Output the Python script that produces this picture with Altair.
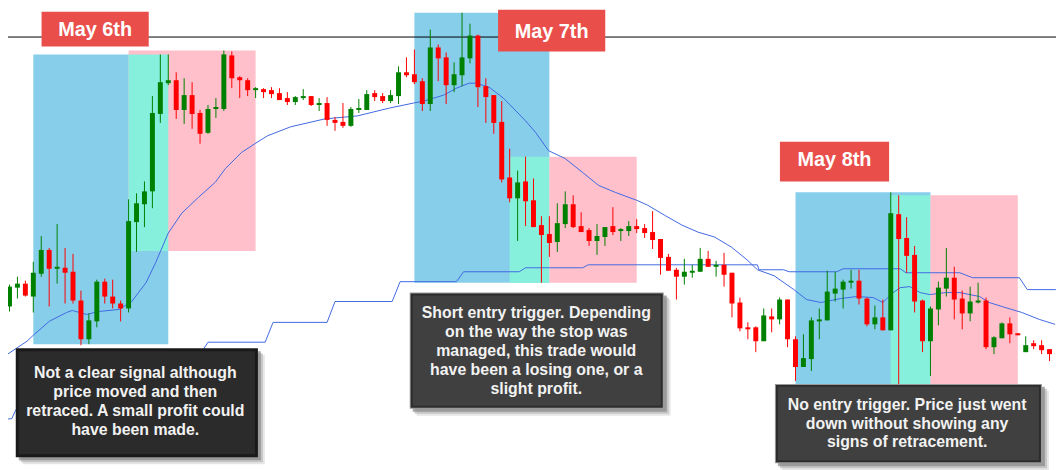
import altair as alt
import pandas as pd

# ---------------- candle data (one bar per period, price level units) ----------------
open_ = [174, 163, 182, 186, 173, 196, 220, 201, 202, 198,
         169, 130, 148, 188, 173, 166, 161, 248, 266, 279,
         357, 388, 391, 361, 376, 358, 338, 362, 362, 416,
         394, 391, 381, 382, 381, 378, 373, 369, 373, 375,
         366, 368, 351, 349, 345, 361, 361, 378, 375, 370,
         375, 399, 397, 390, 367, 424, 414, 386, 396, 413,
         436, 385, 376, 349, 293, 272, 289, 270, 245, 236,
         228, 246, 266, 244, 240, 229, 233, 244, 239, 239,
         244, 242, 238, 231, 213, 200, 193, 197, 198, 211,
         203, 205, 197, 167, 142, 142, 128, 153, 150, 170,
         130, 102, 110, 148, 149, 176, 180, 187, 189, 171,
         145, 152, 139, 256, 232, 215, 169, 128, 160, 181,
         192, 171, 156, 167, 169, 122, 131, 146, 136, 117,
         126, 124, 120]
high = [179, 185, 193, 189, 208, 234, 222, 246, 222, 216,
        179, 156, 190, 191, 190, 169, 271, 277, 289, 375,
        417, 417, 399, 393, 389, 361, 366, 373, 421, 420,
        395, 393, 384, 383, 384, 383, 379, 375, 382, 375,
        373, 374, 354, 368, 364, 372, 381, 381, 378, 381,
        405, 414, 422, 393, 442, 427, 419, 409, 459, 448,
        437, 393, 376, 370, 322, 300, 314, 292, 254, 254,
        267, 279, 275, 258, 242, 246, 243, 263, 242, 249,
        251, 246, 259, 231, 216, 202, 211, 205, 222, 219,
        209, 217, 197, 172, 147, 143, 161, 161, 172, 170,
        133, 135, 152, 161, 199, 198, 190, 200, 200, 172,
        164, 170, 278, 275, 253, 224, 170, 163, 188, 222,
        203, 179, 183, 187, 172, 133, 147, 152, 136, 133,
        129, 129, 120]
low = [161, 158, 171, 173, 157, 193, 163, 186, 166, 166,
       124, 125, 142, 166, 161, 148, 157, 218, 243, 262,
       348, 386, 352, 347, 342, 327, 337, 353, 360, 383,
       373, 375, 373, 373, 373, 371, 366, 366, 371, 365,
       360, 345, 340, 343, 344, 358, 361, 370, 368, 368,
       367, 394, 387, 360, 360, 390, 367, 379, 385, 408,
       364, 348, 337, 288, 268, 229, 244, 243, 187, 213,
       218, 242, 242, 238, 224, 215, 224, 235, 229, 234,
       237, 232, 221, 195, 199, 170, 185, 192, 198, 203,
       193, 183, 152, 138, 130, 117, 128, 137, 145, 122,
       88, 102, 98, 130, 149, 168, 161, 181, 165, 143,
       140, 139, 139, 85, 197, 157, 117, 93, 144, 173,
       150, 140, 148, 166, 120, 115, 131, 126, 134, 117,
       120, 115, 108]
close = [163, 183, 186, 174, 197, 220, 201, 203, 197, 169,
         130, 149, 188, 173, 166, 161, 249, 267, 279, 358,
         389, 391, 361, 376, 357, 337, 362, 364, 417, 393,
         391, 381, 383, 379, 377, 371, 369, 374, 375, 366,
         368, 351, 348, 345, 362, 363, 377, 374, 370, 376,
         399, 396, 389, 367, 424, 413, 386, 397, 414, 436,
         384, 374, 348, 291, 272, 288, 269, 243, 235, 227,
         247, 266, 243, 238, 229, 234, 243, 238, 241, 244,
         241, 237, 230, 212, 199, 193, 198, 199, 211, 203,
         205, 195, 166, 141, 140, 128, 154, 150, 170, 130,
         102, 111, 149, 150, 178, 181, 188, 189, 171, 145,
         152, 139, 257, 231, 214, 168, 128, 161, 182, 192,
         170, 156, 168, 169, 122, 132, 146, 135, 134, 124,
         123, 119, 115]

# moving average (bar position, level)
ma_bar = [0, 1.9, 3.2, 4.0, 6.0, 8.2, 8.9, 10.7, 12.3, 14.8, 16.4, 18.2, 19.4, 21.0,
          22.7, 24.8, 26.9, 28.2, 30.2, 31.9, 33.5, 36.4, 40.7, 44.8, 48.9, 51.9,
          53.2, 55.7, 57.3, 58.9, 59.8, 61.4, 63.2, 64.8, 66.0, 67.3, 68.9, 71.0,
          73.2, 75.2, 77.3, 80.0, 81.4, 83.5, 85.7, 87.7, 89.8, 91.9, 93.9, 95.2,
          97.3, 99.8, 101.4, 103.2, 105.7, 107.7, 109.8, 111.0, 112.3, 113.2, 114.4,
          115.7, 116.9, 118.9, 120.7, 123.2, 124.4, 126.4, 128.5, 130.7, 132.7]
ma_val = [111, 121, 128, 134, 148, 157, 159, 155, 158, 160, 168, 187, 207, 237,
          257, 273, 288, 302, 318, 327, 335, 344, 352, 355, 363, 368,
          370, 376, 383, 388, 388, 384, 373, 360, 350, 338, 320, 312,
          298, 285, 278, 270, 265, 255, 245, 238, 233, 223, 210, 200,
          194, 180, 170, 167, 171, 173, 172, 167, 177, 182, 183,
          177, 175, 177, 177, 173, 167, 162, 157, 150, 145]

# stepped channel line (bar position, level)
step_bar = [0, 1.3, 1.8, 14.8, 15.4, 24.8, 26.0, 33.2, 34.2, 41.0, 42.0, 49.2, 50.2,
            57.3, 58.2, 65.2, 66.0, 73.2, 73.9, 95.2, 95.4, 98.5, 99.2, 105.2, 106.0,
            113.2, 113.9, 120.7, 122.3, 128.2, 129.2, 132.8]
step_val = [49, 50, 59, 59, 112, 112, 127, 127, 147, 147, 168, 168, 188,
            188, 198, 198, 202, 202, 205, 205, 200, 200, 198, 198, 201,
            201, 197, 197, 192, 192, 180, 180]

# highlighted zones
zone_start = [4, 16, 16, 52, 64, 69, 100, 112, 117]
zone_end = [21, 32, 21, 69, 69, 80, 117, 117, 128]
zone_top = [417, 421, 417, 459, 314, 314, 278, 275, 275]
zone_bottom = [125, 219, 219, 187, 187, 187, 85, 85, 85]
zone_kind = ["setup", "trade", "entry", "setup", "entry", "trade", "setup", "entry", "trade"]

# day labels
label_text = ["May 6th", "May 7th", "May 8th"]
label_start = [5.04, 62.54, 98.04]
label_end = [18.54, 76.04, 111.79]
label_top = [460, 462, 329]
label_bottom = [425, 420, 289]
label_center = [11.79, 69.29, 104.91]
label_base = [436, 434, 305]

# comment boxes
note_text = [
    "Not a clear signal although\nprice moved and then\nretraced. A small profit could\nhave been made.",
    "Short entry trigger. Depending\non the way the stop was\nmanaged, this trade would\nhave been a losing one, or a\nslight profit.",
    "No entry trigger. Price just went\ndown without showing any\nsigns of retracement.",
]
note_start = [1.79, 51.41, 97.41]
note_end = [32.29, 83.41, 131.04]
note_top = [121, 177, 85]
note_bottom = [11, 60, 5]
note_center = [16.85, 67.35, 114.06]
note_base = [91, 151, 59]

hline_level = [434.5]

# ---------------- tables ----------------
zone_colors = {"setup": "#87ceeb", "trade": "#ffc0cb", "entry": "#87f0dd"}
candles = pd.DataFrame({"bar": list(range(len(open_))), "open": open_, "high": high,
                        "low": low, "close": close})
candles["col"] = ["#008000" if c >= o else "#ff0000" for o, c in zip(open_, close)]
ma = pd.DataFrame({"bar": ma_bar, "level": ma_val})
step = pd.DataFrame({"bar": step_bar, "level": step_val})
zones = pd.DataFrame({"x1": zone_start, "x2": zone_end, "y1": zone_top, "y2": zone_bottom,
                      "col": [zone_colors[k] for k in zone_kind]})
labels = pd.DataFrame({"x1": label_start, "x2": label_end, "y1": label_top, "y2": label_bottom,
                       "xc": label_center, "yb": label_base, "text": label_text})
notes = pd.DataFrame({"x1": note_start, "x2": note_end, "y1": note_top, "y2": note_bottom,
                      "xc": note_center, "yb": note_base, "text": note_text,
                      "rim": ["#1a1a1a", "#9a9a9a", "#9a9a9a"],
                      "edge": ["#1a1a1a", "#2c2c2c", "#2c2c2c"],
                      "face": ["#2b2b2b", "#404040", "#404040"]})

XS = alt.Scale(domain=[0.8125, 132.8125], nice=False, zero=False, padding=0)
YS = alt.Scale(domain=[0, 462], nice=False, zero=False, padding=0)
FONT = "Liberation Sans"

zone_layer = alt.Chart(zones).mark_rect().encode(
    x=alt.X("x1:Q", scale=XS, axis=None), x2="x2:Q",
    y=alt.Y("y1:Q", scale=YS, axis=None), y2="y2:Q",
    color=alt.Color("col:N", scale=None),
)

hline = alt.Chart(pd.DataFrame({"level": hline_level})).mark_rule(
    color="#000000", strokeWidth=1).encode(y=alt.Y("level:Q", scale=YS, axis=None))

ma_line = alt.Chart(ma).mark_line(color="#4169e1", strokeWidth=1).encode(
    x=alt.X("bar:Q", scale=XS, axis=None), y=alt.Y("level:Q", scale=YS, axis=None))
step_line = alt.Chart(step).mark_line(color="#4169e1", strokeWidth=1).encode(
    x=alt.X("bar:Q", scale=XS, axis=None), y=alt.Y("level:Q", scale=YS, axis=None))

wicks = alt.Chart(candles).mark_rule(strokeWidth=1).encode(
    x=alt.X("bar:Q", scale=XS, axis=None),
    y=alt.Y("low:Q", scale=YS, axis=None), y2="high:Q",
    color=alt.Color("col:N", scale=None))
bodies = alt.Chart(candles).mark_bar(size=5).encode(
    x=alt.X("bar:Q", scale=XS, axis=None),
    y=alt.Y("open:Q", scale=YS, axis=None), y2="close:Q",
    color=alt.Color("col:N", scale=None))

label_box = alt.Chart(labels).mark_rect(color="#e94e4a").encode(
    x=alt.X("x1:Q", scale=XS, axis=None), x2="x2:Q",
    y=alt.Y("y1:Q", scale=YS, axis=None), y2="y2:Q")
label_txt = alt.Chart(labels).mark_text(
    font=FONT, fontSize=20, fontWeight="bold", color="white", align="center",
    baseline="alphabetic").encode(
    x=alt.X("xc:Q", scale=XS, axis=None), y=alt.Y("yb:Q", scale=YS, axis=None), text="text:N")


def note_rect(off1, off2, **mk):
    return alt.Chart(notes).mark_rect(xOffset=off1[0], x2Offset=off2[0],
                                      yOffset=off1[1], y2Offset=off2[1], **mk).encode(
        x=alt.X("x1:Q", scale=XS, axis=None), x2="x2:Q",
        y=alt.Y("y1:Q", scale=YS, axis=None), y2="y2:Q")


shadows = [
    note_rect((7, 7), (7, 7), color="#d6d6d6", opacity=0.6),
    note_rect((5, 5), (5, 5), color="#b0b0b0", opacity=0.6),
    note_rect((3, 3), (3, 3), color="#888888", opacity=0.7),
]
rim = note_rect((0, 0), (0, 0)).encode(color=alt.Color("rim:N", scale=None))
edge = note_rect((1, 1), (-1, -1)).encode(color=alt.Color("edge:N", scale=None))
face = note_rect((3, 3), (-3, -3)).encode(color=alt.Color("face:N", scale=None))
note_txt = alt.Chart(notes).mark_text(
    font=FONT, fontSize=16, fontWeight="bold", color="#f2f2f2", align="center",
    baseline="alphabetic", lineBreak="\n", lineHeight=19).encode(
    x=alt.X("xc:Q", scale=XS, axis=None), y=alt.Y("yb:Q", scale=YS, axis=None), text="text:N")

chart = alt.layer(
    zone_layer, hline, step_line, ma_line, wicks, bodies, label_box, label_txt,
    *shadows, rim, edge, face, note_txt,
).properties(
    width=1056, height=462, autosize=alt.AutoSizeParams(type="none"), padding=0,
    background="white",
).configure_view(strokeWidth=0)

chart.save("out.html", embed_options={"renderer": "svg", "actions": False})
